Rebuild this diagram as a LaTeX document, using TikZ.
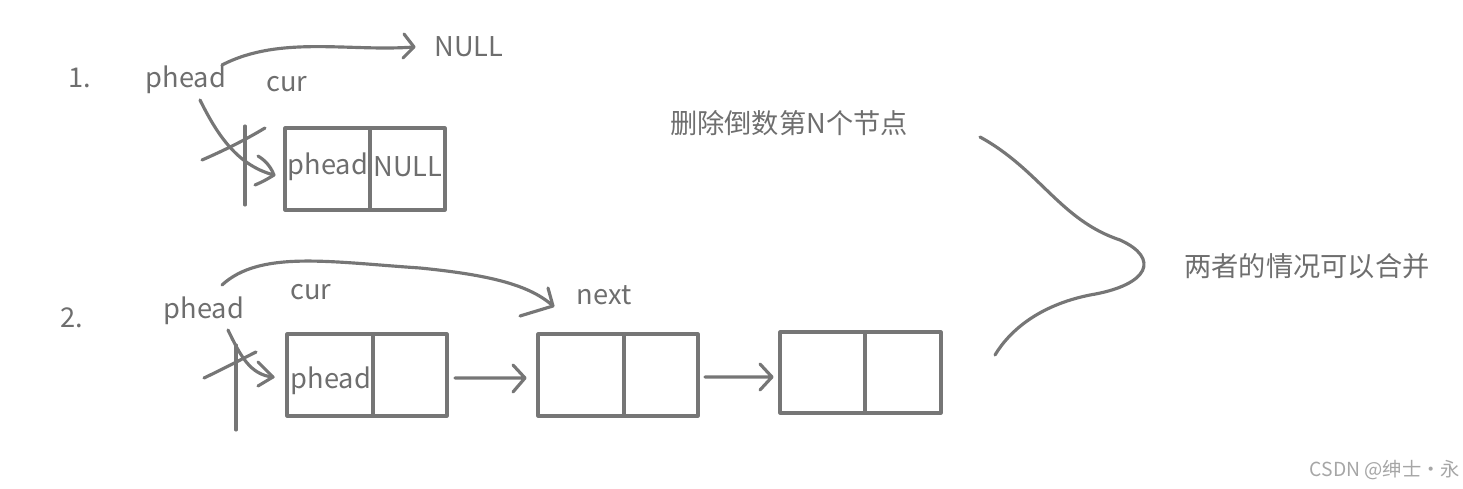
\documentclass[tikz,border=0pt]{standalone}
\usepackage{fontspec}
\setmainfont{Noto Sans CJK SC}
\begin{document}
\begin{tikzpicture}[x=0.02cm,y=-0.02cm,
  pen/.style={draw=penc,line width=1.8pt,line cap=round,line join=round},
  txt/.style={text=txtc,font=\fontsize{15.5pt}{18pt}\selectfont,inner sep=0pt},
  cell/.style={pen,minimum height=1.64cm,inner sep=0pt}]
\definecolor{penc}{RGB}{118,118,118}
\definecolor{txtc}{RGB}{110,110,110}
\useasboundingbox (0,0) rectangle (1463,489);
% case 1
\node[txt] (n1) at (80,78) {1.};
\node[txt] (ph1) at (186,80) {phead};
\node[txt] (cur1) at (287,84) {cur};
\node[txt] (null1) at (469,47) {NULL};
\draw[pen] (285,128) rectangle (445,210) (370,128) -- (370,210);
\node[txt] (b1a) at (328,167) {phead};
\node[txt] (b1b) at (408,167) {NULL};
\coordinate (c1s) at (222,65); \coordinate (c1e) at (414,47);
\draw[pen] (c1s) .. controls (280,35) and (350,52) .. (c1e);
\draw[pen] (404,34) -- (c1e) -- (403,58);
\draw[pen] (200,100) .. controls (215,130) and (235,165) .. (274,175);
\draw[pen] (258,156) .. controls (268,162) and (272,170) .. (274,175) .. controls (266,180) and (262,182) .. (255,185);
\draw[pen] (245,126) -- (245,205);
\draw[pen] (202,160) .. controls (225,150) and (245,140) .. (265,128);
% case 2
\node[txt] (n2) at (72,318) {2.};
\node[txt] (ph2) at (204,311) {phead};
\node[txt] (cur2) at (311,292) {cur};
\node[txt] (nx) at (604,295) {next};
\draw[pen] (287,334) rectangle (447,416) (373,334) -- (373,416);
\draw[pen] (538,334) rectangle (698,416) (624,334) -- (624,416);
\draw[pen] (780,332) rectangle (941,413) (865,332) -- (865,413);
\node[txt] (b2a) at (331,381) {phead};
\draw[pen] (222,285) .. controls (260,250) and (330,262) .. (420,268) .. controls (490,275) and (530,285) .. (553,306);
\draw[pen] (548,288) -- (553,306) -- (520,316);
\draw[pen] (228,330) .. controls (240,355) and (250,375) .. (273,377);
\draw[pen] (258,362) -- (273,377) -- (258,386);
\draw[pen] (236,345) -- (236,430);
\draw[pen] (204,378) .. controls (225,368) and (240,360) .. (256,352);
\draw[pen] (455,378) -- (525,378) (513,365) -- (525,378) -- (513,392);
\draw[pen] (705,377) -- (772,377) (760,364) -- (772,377) -- (760,390);
% right
\node[txt] (title) at (789,123) {删除倒数第N个节点};
\node[txt] (merge) at (1307,266) {两者的情况可以合并};
\draw[pen] (980,137) .. controls (1040,170) and (1060,220) .. (1120,240) .. controls (1160,258) and (1150,285) .. (1090,295) .. controls (1040,305) and (1010,330) .. (995,355);
\node[text=black!35,font=\fontsize{11pt}{13pt}\selectfont,inner sep=0pt] (wm) at (1385,470) {CSDN @绅士·永};
\end{tikzpicture}
\end{document}
